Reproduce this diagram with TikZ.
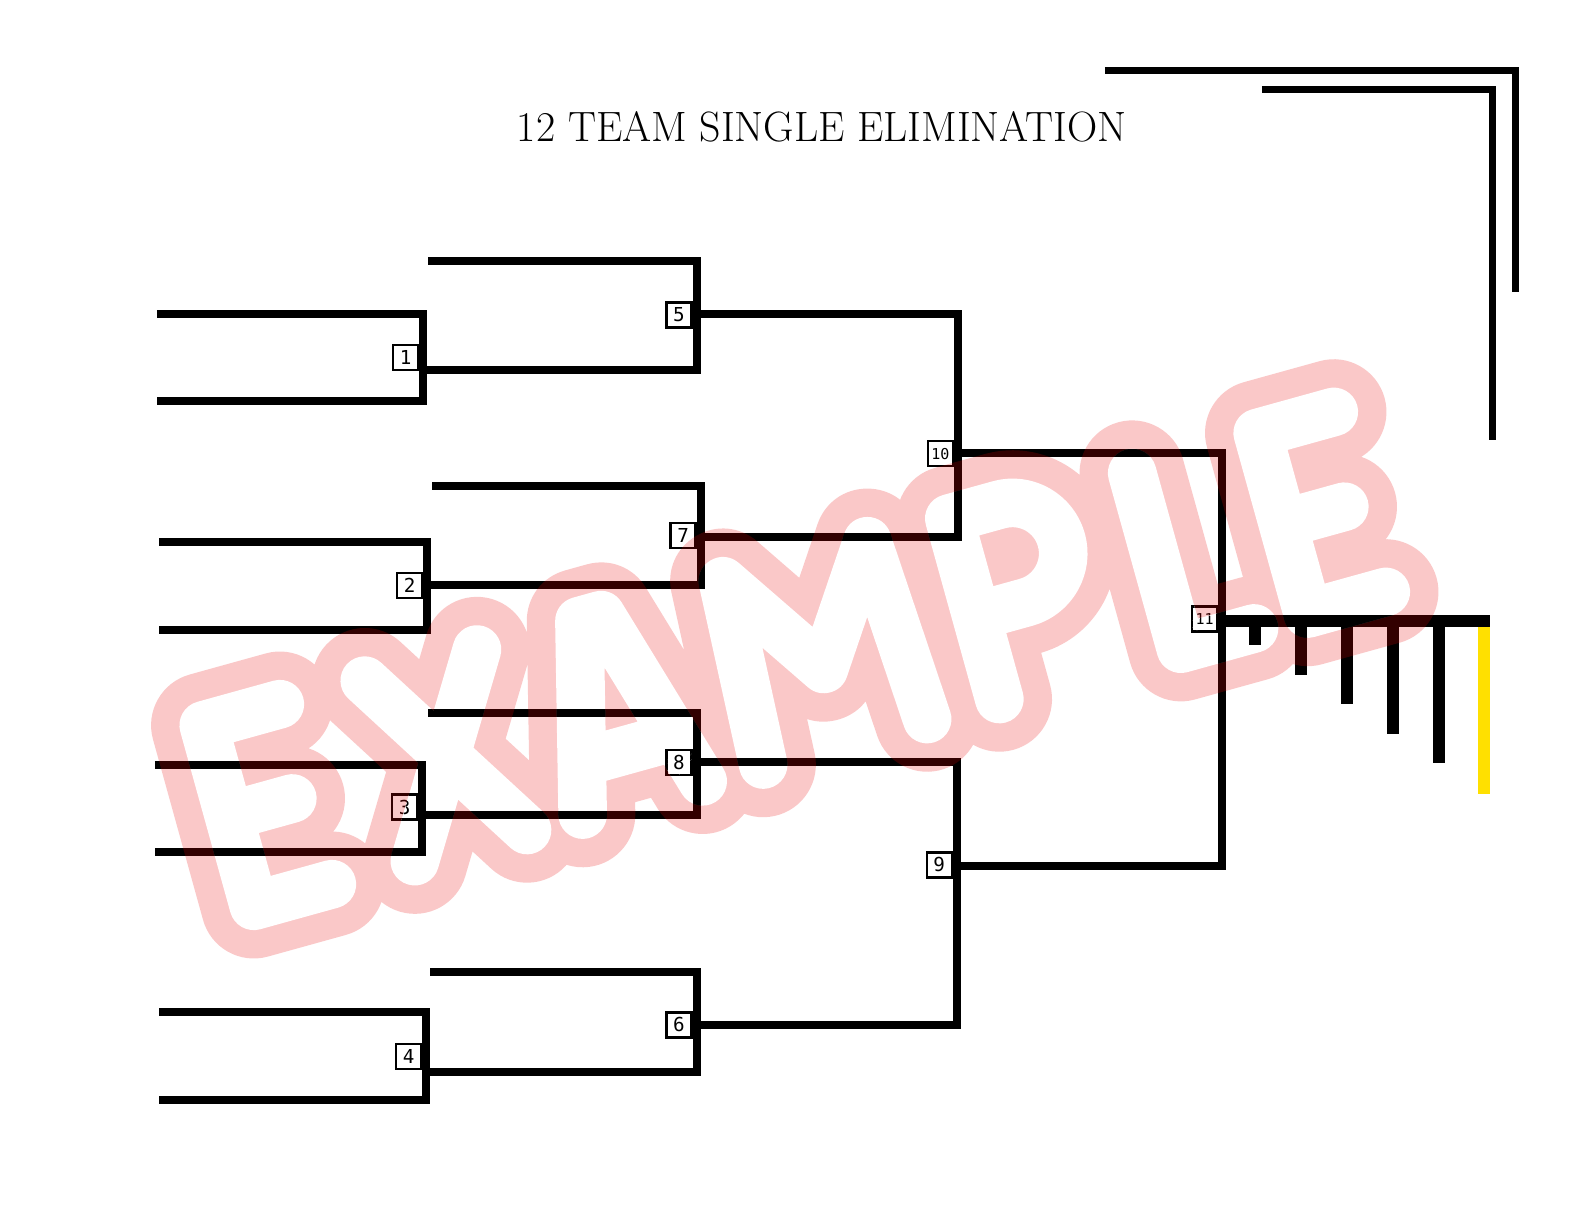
\documentclass[tikz,border=0pt]{standalone}
\usepackage{fontspec}
\usepackage{graphicx}
\newfontfamily\numfont{DejaVu Sans Mono}
\definecolor{wmred}{RGB}{236,0,0}
\definecolor{gold}{RGB}{255,224,0}
\tikzset{
  bline/.style={line width=3.95pt, line join=miter},
  numbox/.style={draw, line width=1.2pt, fill=white, minimum size=12.35pt, inner sep=0pt,
    font=\numfont\fontsize{9.5}{9.5}\selectfont},
  numboxtwo/.style={numbox, font=\numfont\fontsize{7.4}{7.4}\selectfont},
  podium/.style={line width=5.9pt},
  cornerline/.style={line width=3.4pt},
  halo/.style={draw=wmred, line width=52pt, line cap=round, line join=round},
  letterstroke/.style={draw=white, line width=24pt, line cap=round, line join=round},
  wmword/.style={insert path={
    (78,185) -- (0,185) -- (0,0) -- (80,0) (0,92) -- (65,92)
    (165,185) -- (280,0) (280,185) -- (165,0)
    (337,0) -- (385,185) -- (407,185) -- (460,0) (350,50) -- (445,50)
    (522,0) -- (532,185) -- (605,75) -- (680,185) -- (690,0)
    (764,0) -- (764,185) -- (815,185) .. controls (842.6,185) and (865,162.6) .. (865,135)
      .. controls (865,107.4) and (842.6,85) .. (815,85) -- (764,85)
    (950,180) -- (950,0) -- (1025,0)
    (1158,185) -- (1080,185) -- (1080,0) -- (1160,0) (1080,92) -- (1143,92)
  }}
}
\newcommand{\bracketdraw}{%
  \draw[bline] (155,310) -- (418,310) -- (418,396) -- (155,396);
  \draw[bline] (157,535) -- (422,535) -- (422,622) -- (157,622);
  \draw[bline] (153,755) -- (417,755) -- (417,841) -- (153,841);
  \draw[bline] (157,999) -- (421,999) -- (421,1086) -- (157,1086);
  \draw[bline] (423,258) -- (688,258) -- (688,365) -- (418,365);
  \draw[bline] (427,480) -- (692,480) -- (692,578) -- (422,578);
  \draw[bline] (423,704) -- (688,704) -- (688,805) -- (417,805);
  \draw[bline] (425,960) -- (688,960) -- (688,1058) -- (421,1058);
  \draw[bline] (688,310) -- (946,310) -- (946,530) -- (692,530);
  \draw[bline] (688,752) -- (945,752) -- (945,1012) -- (688,1012);
  \draw[bline] (946,447) -- (1207,447) -- (1207,855) -- (945,855);
  \draw[line width=5.9pt] (1207,613) -- (1471,613);
  \draw[podium] (1239,613) -- (1239,637);
  \draw[podium] (1285,613) -- (1285,666);
  \draw[podium] (1330,613) -- (1330,695);
  \draw[podium] (1375,613) -- (1375,725);
  \draw[podium] (1421,613) -- (1421,753);
  \draw[podium, gold] (1465,619) -- (1465,784);
  \node[numbox, anchor=east] (m1) at (414,353) {1};
  \node[numbox, anchor=east] (m2) at (418,578) {2};
  \node[numbox, anchor=east] (m3) at (413,797) {3};
  \node[numbox, anchor=east] (m4) at (417,1043) {4};
  \node[numbox, anchor=east] (m5) at (684,311) {5};
  \node[numbox, anchor=east] (m6) at (684,1012) {6};
  \node[numbox, anchor=east] (m7) at (688,529) {7};
  \node[numbox, anchor=east] (m8) at (684,753) {8};
  \node[numbox, anchor=east] (m9) at (941,854) {9};
  \node[numboxtwo, anchor=east] (m10) at (942,448) {10};
  \node[numboxtwo, anchor=east] (m11) at (1203,611) {11};
}
\begin{document}
\begin{tikzpicture}[x=0.5pt, y=-0.5pt]
\useasboundingbox (0,0) rectangle (1568,1211.5);
\fill[white] (0,0) rectangle (1568,1211.5);

% title
\node[anchor=base west, inner sep=0pt] (title) at (510,139.9)
  {\resizebox{301pt}{14.8pt}{\fontsize{22}{22}\selectfont 12 TEAM SINGLE ELIMINATION}};

% corner decoration
\draw[cornerline] (1091,70) -- (1496,70) -- (1496,288);
\draw[cornerline] (1246,88) -- (1474,88) -- (1474,434);

% bracket, podium bars and match numbers
\bracketdraw

% watermark
\begin{scope}[transparency group, opacity=0.216]
  \begin{scope}[shift={(250.6,894.4)}, rotate=15.5, yscale=-1]
    \path[halo, wmword];
    \path[letterstroke, wmword];
  \end{scope}
\end{scope}

% keep the bracket black inside the clear letters
\begin{scope}[shift={(250.6,894.4)}, rotate=15.5, yscale=-1]
  \foreach \ax/\ay/\bx/\by in {
    78/185/0/185, 0/185/0/0, 0/0/80/0, 0/92/65/92,
    165/185/280/0, 280/185/165/0,
    337/0/385/185, 385/185/407/185, 407/185/460/0, 350/50/445/50,
    522/0/532/185, 532/185/605/75, 605/75/680/185, 680/185/690/0,
    764/0/764/185, 764/185/815/185, 815/185/840/178.3, 840/178.3/858.3/160,
    858.3/160/865/135, 865/135/858.3/110, 858.3/110/840/91.7, 840/91.7/815/85, 815/85/764/85,
    950/180/950/0, 950/0/1025/0,
    1158/185/1080/185, 1080/185/1080/0, 1080/0/1160/0, 1080/92/1143/92}{
    \pgfmathsetmacro\ang{atan2(\by-\ay,\bx-\ax)}
    \pgfmathsetmacro\len{veclen(\bx-\ax,\by-\ay)}
    \begin{scope}
      \clip (\ax,\ay) -- ++(\ang+90:24) -- ++(\ang:\len) -- ++(\ang-90:48) -- ++(\ang+180:\len) -- cycle;
      \begin{scope}[reset cm]\bracketdraw\end{scope}
    \end{scope}
    \begin{scope}
      \clip (\ax,\ay) circle[radius=12pt];
      \begin{scope}[reset cm]\bracketdraw\end{scope}
    \end{scope}
    \begin{scope}
      \clip (\bx,\by) circle[radius=12pt];
      \begin{scope}[reset cm]\bracketdraw\end{scope}
    \end{scope}
  }
\end{scope}
\end{tikzpicture}
\end{document}
